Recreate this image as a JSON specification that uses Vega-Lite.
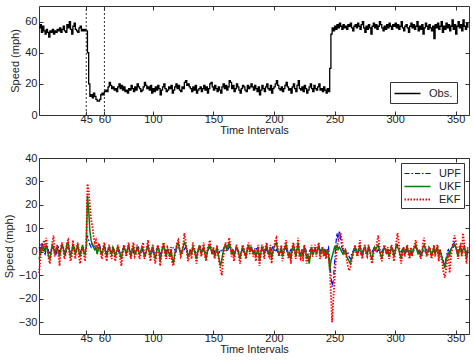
{
"$schema":"https://vega.github.io/schema/vega-lite/v6.json",
"background":"white",
"padding":{"left":2,"top":5,"right":7,"bottom":4},
"spacing":15,
"resolve":{"scale":{"color":"independent","strokeDash":"independent","strokeWidth":"independent"}},
"datasets":{
"obs":[{"t":6,"v":56},{"t":7,"v":58},{"t":8,"v":53},{"t":9,"v":57},{"t":10,"v":54},{"t":11,"v":52},{"t":12,"v":55},{"t":13,"v":53},{"t":14,"v":50},{"t":15,"v":54},{"t":16,"v":53},{"t":17,"v":55},{"t":18,"v":52},{"t":19,"v":54},{"t":20,"v":53},{"t":21,"v":55},{"t":22,"v":54},{"t":23,"v":56},{"t":24,"v":53},{"t":25,"v":55},{"t":26,"v":57},{"t":27,"v":54},{"t":28,"v":53},{"t":29,"v":58},{"t":30,"v":56},{"t":31,"v":60},{"t":32,"v":55},{"t":33,"v":52},{"t":34,"v":57},{"t":35,"v":59},{"t":36,"v":55},{"t":37,"v":54},{"t":38,"v":53},{"t":39,"v":56},{"t":40,"v":57},{"t":41,"v":54},{"t":42,"v":55},{"t":43,"v":54},{"t":44,"v":55},{"t":45,"v":54},
{"t":46,"v":40},{"t":47,"v":20},{"t":48,"v":12},{"t":49,"v":13},{"t":50,"v":11},{"t":51,"v":14},{"t":52,"v":12},{"t":53,"v":10},{"t":54,"v":9},{"t":55,"v":9},{"t":56,"v":10},{"t":57,"v":13},{"t":58,"v":14},{"t":59,"v":13},{"t":60,"v":15},
{"t":61,"v":16},{"t":62,"v":15},{"t":63,"v":18},{"t":64,"v":21},{"t":65,"v":19},{"t":66,"v":17},{"t":67,"v":18},{"t":68,"v":16},{"t":69,"v":17},{"t":70,"v":15},
{"t":71,"v":18},{"t":72,"v":20},{"t":73,"v":17},{"t":74,"v":19},{"t":75,"v":16},{"t":76,"v":18},{"t":77,"v":15},{"t":78,"v":16},{"t":79,"v":14},{"t":80,"v":17},
{"t":81,"v":16},{"t":82,"v":19},{"t":83,"v":17},{"t":84,"v":15},{"t":85,"v":18},{"t":86,"v":16},{"t":87,"v":20},{"t":88,"v":18},{"t":89,"v":17},{"t":90,"v":15},
{"t":91,"v":16},{"t":92,"v":18},{"t":93,"v":21},{"t":94,"v":19},{"t":95,"v":17},{"t":96,"v":18},{"t":97,"v":16},{"t":98,"v":19},{"t":99,"v":14},{"t":100,"v":17},
{"t":101,"v":15},{"t":102,"v":18},{"t":103,"v":16},{"t":104,"v":19},{"t":105,"v":17},{"t":106,"v":13},{"t":107,"v":16},{"t":108,"v":18},{"t":109,"v":20},{"t":110,"v":17},
{"t":111,"v":15},{"t":112,"v":16},{"t":113,"v":18},{"t":114,"v":17},{"t":115,"v":19},{"t":116,"v":14},{"t":117,"v":16},{"t":118,"v":18},{"t":119,"v":20},{"t":120,"v":17},
{"t":121,"v":19},{"t":122,"v":16},{"t":123,"v":15},{"t":124,"v":18},{"t":125,"v":17},{"t":126,"v":21},{"t":127,"v":22},{"t":128,"v":19},{"t":129,"v":20},{"t":130,"v":18},
{"t":131,"v":17},{"t":132,"v":15},{"t":133,"v":18},{"t":134,"v":16},{"t":135,"v":19},{"t":136,"v":14},{"t":137,"v":16},{"t":138,"v":17},{"t":139,"v":18},{"t":140,"v":15},
{"t":141,"v":17},{"t":142,"v":19},{"t":143,"v":16},{"t":144,"v":18},{"t":145,"v":14},{"t":146,"v":17},{"t":147,"v":20},{"t":148,"v":21},{"t":149,"v":18},{"t":150,"v":16},
{"t":151,"v":19},{"t":152,"v":17},{"t":153,"v":15},{"t":154,"v":18},{"t":155,"v":16},{"t":156,"v":14},{"t":157,"v":18},{"t":158,"v":20},{"t":159,"v":17},{"t":160,"v":19},
{"t":161,"v":16},{"t":162,"v":18},{"t":163,"v":22},{"t":164,"v":21},{"t":165,"v":17},{"t":166,"v":19},{"t":167,"v":15},{"t":168,"v":17},{"t":169,"v":20},{"t":170,"v":18},
{"t":171,"v":16},{"t":172,"v":14},{"t":173,"v":17},{"t":174,"v":19},{"t":175,"v":18},{"t":176,"v":16},{"t":177,"v":15},{"t":178,"v":19},{"t":179,"v":17},{"t":180,"v":18},
{"t":181,"v":20},{"t":182,"v":18},{"t":183,"v":16},{"t":184,"v":19},{"t":185,"v":17},{"t":186,"v":15},{"t":187,"v":18},{"t":188,"v":13},{"t":189,"v":16},{"t":190,"v":19},
{"t":191,"v":17},{"t":192,"v":15},{"t":193,"v":18},{"t":194,"v":20},{"t":195,"v":17},{"t":196,"v":16},{"t":197,"v":19},{"t":198,"v":14},{"t":199,"v":17},{"t":200,"v":18},
{"t":201,"v":20},{"t":202,"v":22},{"t":203,"v":19},{"t":204,"v":17},{"t":205,"v":16},{"t":206,"v":18},{"t":207,"v":15},{"t":208,"v":17},{"t":209,"v":19},{"t":210,"v":21},
{"t":211,"v":18},{"t":212,"v":16},{"t":213,"v":17},{"t":214,"v":14},{"t":215,"v":18},{"t":216,"v":20},{"t":217,"v":17},{"t":218,"v":15},{"t":219,"v":19},{"t":220,"v":22},
{"t":221,"v":17},{"t":222,"v":16},{"t":223,"v":18},{"t":224,"v":15},{"t":225,"v":19},{"t":226,"v":17},{"t":227,"v":14},{"t":228,"v":16},{"t":229,"v":18},{"t":230,"v":20},
{"t":231,"v":17},{"t":232,"v":15},{"t":233,"v":19},{"t":234,"v":17},{"t":235,"v":16},{"t":236,"v":18},{"t":237,"v":20},{"t":238,"v":16},{"t":239,"v":17},{"t":240,"v":15},
{"t":241,"v":18},{"t":242,"v":16},{"t":243,"v":14},{"t":244,"v":17},{"t":245,"v":15},{"t":246,"v":30},{"t":247,"v":52},{"t":248,"v":56},{"t":249,"v":54},
{"t":250,"v":57},{"t":251,"v":55},{"t":252,"v":58},{"t":253,"v":56},{"t":254,"v":59},{"t":255,"v":57},{"t":256,"v":55},{"t":257,"v":58},{"t":258,"v":56},{"t":259,"v":57},
{"t":260,"v":55},{"t":261,"v":58},{"t":262,"v":57},{"t":263,"v":59},{"t":264,"v":56},{"t":265,"v":54},{"t":266,"v":57},{"t":267,"v":58},{"t":268,"v":56},{"t":269,"v":59},
{"t":270,"v":57},{"t":271,"v":55},{"t":272,"v":58},{"t":273,"v":60},{"t":274,"v":56},{"t":275,"v":53},{"t":276,"v":57},{"t":277,"v":55},{"t":278,"v":58},{"t":279,"v":56},
{"t":280,"v":52},{"t":281,"v":57},{"t":282,"v":59},{"t":283,"v":56},{"t":284,"v":58},{"t":285,"v":55},{"t":286,"v":57},{"t":287,"v":60},{"t":288,"v":58},{"t":289,"v":56},
{"t":290,"v":54},{"t":291,"v":57},{"t":292,"v":55},{"t":293,"v":58},{"t":294,"v":56},{"t":295,"v":59},{"t":296,"v":57},{"t":297,"v":55},{"t":298,"v":58},{"t":299,"v":57},
{"t":300,"v":59},{"t":301,"v":56},{"t":302,"v":58},{"t":303,"v":55},{"t":304,"v":57},{"t":305,"v":60},{"t":306,"v":56},{"t":307,"v":54},{"t":308,"v":57},{"t":309,"v":58},
{"t":310,"v":56},{"t":311,"v":53},{"t":312,"v":57},{"t":313,"v":59},{"t":314,"v":56},{"t":315,"v":58},{"t":316,"v":55},{"t":317,"v":57},{"t":318,"v":60},{"t":319,"v":54},
{"t":320,"v":57},{"t":321,"v":55},{"t":322,"v":58},{"t":323,"v":52},{"t":324,"v":56},{"t":325,"v":59},{"t":326,"v":57},{"t":327,"v":55},{"t":328,"v":58},{"t":329,"v":56},
{"t":330,"v":54},{"t":331,"v":57},{"t":332,"v":49},{"t":333,"v":58},{"t":334,"v":56},{"t":335,"v":59},{"t":336,"v":55},{"t":337,"v":57},{"t":338,"v":60},{"t":339,"v":53},
{"t":340,"v":57},{"t":341,"v":55},{"t":342,"v":59},{"t":343,"v":56},{"t":344,"v":58},{"t":345,"v":54},{"t":346,"v":57},{"t":347,"v":61},{"t":348,"v":55},{"t":349,"v":58},
{"t":350,"v":52},{"t":351,"v":57},{"t":352,"v":60},{"t":353,"v":56},{"t":354,"v":58},{"t":355,"v":54},{"t":356,"v":61},{"t":357,"v":57},{"t":358,"v":55},{"t":359,"v":59},{"t":360,"v":56}],
"err":[{"t":6,"UPF":2,"UKF":-3,"EKF":-9},{"t":7,"UPF":1,"UKF":-1,"EKF":-4},{"t":8,"UPF":4,"UKF":2,"EKF":3},{"t":9,"UPF":3,"UKF":1,"EKF":0},{"t":10,"UPF":0,"UKF":2,"EKF":5},
{"t":11,"UPF":-1,"UKF":0,"EKF":2},{"t":12,"UPF":1,"UKF":3,"EKF":6},{"t":13,"UPF":2,"UKF":1,"EKF":1},{"t":14,"UPF":0,"UKF":-2,"EKF":-3},{"t":15,"UPF":-1,"UKF":-3,"EKF":-5},
{"t":16,"UPF":1,"UKF":0,"EKF":-1},{"t":17,"UPF":2,"UKF":3,"EKF":4},{"t":18,"UPF":1,"UKF":2,"EKF":7},{"t":19,"UPF":0,"UKF":-1,"EKF":-2},{"t":20,"UPF":-1,"UKF":1,"EKF":0},
{"t":21,"UPF":1,"UKF":2,"EKF":3},{"t":22,"UPF":2,"UKF":0,"EKF":-1},{"t":23,"UPF":0,"UKF":-2,"EKF":-6},{"t":24,"UPF":1,"UKF":1,"EKF":2},{"t":25,"UPF":2,"UKF":3,"EKF":4},
{"t":26,"UPF":1,"UKF":2,"EKF":1},{"t":27,"UPF":0,"UKF":-1,"EKF":-3},{"t":28,"UPF":-1,"UKF":0,"EKF":-1},{"t":29,"UPF":1,"UKF":3,"EKF":4},{"t":30,"UPF":2,"UKF":4,"EKF":5},
{"t":31,"UPF":1,"UKF":1,"EKF":0},{"t":32,"UPF":0,"UKF":-2,"EKF":-4},{"t":33,"UPF":1,"UKF":0,"EKF":-2},{"t":34,"UPF":2,"UKF":3,"EKF":5},{"t":35,"UPF":1,"UKF":2,"EKF":1},
{"t":36,"UPF":0,"UKF":-1,"EKF":-3},{"t":37,"UPF":1,"UKF":1,"EKF":2},{"t":38,"UPF":2,"UKF":3,"EKF":4},{"t":39,"UPF":1,"UKF":0,"EKF":-2},{"t":40,"UPF":0,"UKF":-2,"EKF":-5},
{"t":41,"UPF":1,"UKF":1,"EKF":0},{"t":42,"UPF":2,"UKF":3,"EKF":2},{"t":43,"UPF":1,"UKF":0,"EKF":-1},{"t":44,"UPF":0,"UKF":-1,"EKF":-4},{"t":45,"UPF":1,"UKF":2,"EKF":3},
{"t":46,"UPF":7,"UKF":24,"EKF":29},{"t":47,"UPF":5,"UKF":18,"EKF":26},{"t":48,"UPF":3,"UKF":9,"EKF":20},{"t":49,"UPF":2,"UKF":5,"EKF":14},{"t":50,"UPF":4,"UKF":3,"EKF":11},
{"t":51,"UPF":2,"UKF":2,"EKF":7},{"t":52,"UPF":3,"UKF":1,"EKF":4},{"t":53,"UPF":1,"UKF":2,"EKF":5},{"t":54,"UPF":0,"UKF":-1,"EKF":1},{"t":55,"UPF":2,"UKF":1,"EKF":3},
{"t":56,"UPF":3,"UKF":2,"EKF":2},{"t":57,"UPF":1,"UKF":0,"EKF":-1},{"t":58,"UPF":0,"UKF":-1,"EKF":-3},{"t":59,"UPF":1,"UKF":1,"EKF":2},{"t":60,"UPF":2,"UKF":3,"EKF":4},
{"t":61,"UPF":1,"UKF":0,"EKF":-2},{"t":62,"UPF":0,"UKF":-2,"EKF":-4},{"t":63,"UPF":1,"UKF":1,"EKF":1},{"t":64,"UPF":2,"UKF":2,"EKF":3},{"t":65,"UPF":1,"UKF":0,"EKF":-1},
{"t":66,"UPF":0,"UKF":-1,"EKF":-3},{"t":67,"UPF":1,"UKF":2,"EKF":2},{"t":68,"UPF":0,"UKF":1,"EKF":0},{"t":69,"UPF":-1,"UKF":-2,"EKF":-4},{"t":70,"UPF":0,"UKF":0,"EKF":-1},
{"t":71,"UPF":1,"UKF":2,"EKF":3},{"t":72,"UPF":0,"UKF":1,"EKF":1},{"t":73,"UPF":-1,"UKF":-1,"EKF":-3},{"t":74,"UPF":0,"UKF":-3,"EKF":-6},{"t":75,"UPF":1,"UKF":0,"EKF":-1},
{"t":76,"UPF":2,"UKF":2,"EKF":3},{"t":77,"UPF":1,"UKF":1,"EKF":2},{"t":78,"UPF":0,"UKF":-1,"EKF":-2},{"t":79,"UPF":1,"UKF":1,"EKF":0},{"t":80,"UPF":2,"UKF":3,"EKF":4},
{"t":81,"UPF":1,"UKF":0,"EKF":-1},{"t":82,"UPF":0,"UKF":-2,"EKF":-3},{"t":83,"UPF":1,"UKF":1,"EKF":2},{"t":84,"UPF":0,"UKF":2,"EKF":4},{"t":85,"UPF":-1,"UKF":-1,"EKF":-2},
{"t":86,"UPF":0,"UKF":0,"EKF":-1},{"t":87,"UPF":1,"UKF":2,"EKF":3},{"t":88,"UPF":2,"UKF":1,"EKF":0},{"t":89,"UPF":1,"UKF":-1,"EKF":-3},{"t":90,"UPF":0,"UKF":0,"EKF":-1},
{"t":91,"UPF":1,"UKF":2,"EKF":2},{"t":92,"UPF":0,"UKF":1,"EKF":4},{"t":93,"UPF":-1,"UKF":-2,"EKF":-3},{"t":94,"UPF":0,"UKF":-1,"EKF":-1},{"t":95,"UPF":1,"UKF":1,"EKF":2},
{"t":96,"UPF":2,"UKF":3,"EKF":5},{"t":97,"UPF":1,"UKF":0,"EKF":-1},{"t":98,"UPF":0,"UKF":-2,"EKF":-4},{"t":99,"UPF":1,"UKF":1,"EKF":1},{"t":100,"UPF":0,"UKF":2,"EKF":3},
{"t":101,"UPF":-1,"UKF":-1,"EKF":-2},{"t":102,"UPF":0,"UKF":-3,"EKF":-5},{"t":103,"UPF":1,"UKF":0,"EKF":-1},{"t":104,"UPF":2,"UKF":2,"EKF":3},{"t":105,"UPF":1,"UKF":1,"EKF":1},
{"t":106,"UPF":-1,"UKF":-4,"EKF":-6},{"t":107,"UPF":0,"UKF":-1,"EKF":-2},{"t":108,"UPF":1,"UKF":2,"EKF":3},{"t":109,"UPF":2,"UKF":3,"EKF":4},{"t":110,"UPF":1,"UKF":0,"EKF":-1},
{"t":111,"UPF":0,"UKF":-2,"EKF":-3},{"t":112,"UPF":1,"UKF":1,"EKF":2},{"t":113,"UPF":0,"UKF":0,"EKF":1},{"t":114,"UPF":-1,"UKF":-2,"EKF":-3},{"t":115,"UPF":0,"UKF":1,"EKF":2},
{"t":116,"UPF":1,"UKF":-3,"EKF":-5},{"t":117,"UPF":2,"UKF":-5,"EKF":-6},{"t":118,"UPF":1,"UKF":-1,"EKF":-2},{"t":119,"UPF":0,"UKF":1,"EKF":1},{"t":120,"UPF":1,"UKF":3,"EKF":4},
{"t":121,"UPF":2,"UKF":4,"EKF":5},{"t":122,"UPF":1,"UKF":1,"EKF":2},{"t":123,"UPF":0,"UKF":-1,"EKF":-2},{"t":124,"UPF":1,"UKF":0,"EKF":-1},{"t":125,"UPF":0,"UKF":2,"EKF":3},
{"t":126,"UPF":1,"UKF":4,"EKF":8},{"t":127,"UPF":2,"UKF":3,"EKF":5},{"t":128,"UPF":1,"UKF":1,"EKF":0},{"t":129,"UPF":0,"UKF":-2,"EKF":-4},{"t":130,"UPF":-1,"UKF":-1,"EKF":-2},
{"t":131,"UPF":0,"UKF":1,"EKF":1},{"t":132,"UPF":1,"UKF":-1,"EKF":-3},{"t":133,"UPF":2,"UKF":2,"EKF":4},{"t":134,"UPF":1,"UKF":1,"EKF":2},{"t":135,"UPF":0,"UKF":-1,"EKF":-1},
{"t":136,"UPF":-1,"UKF":-3,"EKF":-5},{"t":137,"UPF":0,"UKF":0,"EKF":-1},{"t":138,"UPF":1,"UKF":2,"EKF":2},{"t":139,"UPF":2,"UKF":1,"EKF":3},{"t":140,"UPF":1,"UKF":-1,"EKF":-2},
{"t":141,"UPF":0,"UKF":1,"EKF":1},{"t":142,"UPF":1,"UKF":2,"EKF":4},{"t":143,"UPF":0,"UKF":-1,"EKF":-2},{"t":144,"UPF":-1,"UKF":-3,"EKF":-4},{"t":145,"UPF":0,"UKF":0,"EKF":1},
{"t":146,"UPF":1,"UKF":2,"EKF":3},{"t":147,"UPF":2,"UKF":3,"EKF":5},{"t":148,"UPF":1,"UKF":1,"EKF":2},{"t":149,"UPF":0,"UKF":-1,"EKF":-1},{"t":150,"UPF":1,"UKF":1,"EKF":2},
{"t":151,"UPF":0,"UKF":-2,"EKF":-3},{"t":152,"UPF":1,"UKF":0,"EKF":-1},{"t":153,"UPF":0,"UKF":2,"EKF":3},{"t":154,"UPF":-1,"UKF":-1,"EKF":-2},{"t":155,"UPF":0,"UKF":-4,"EKF":-5},
{"t":156,"UPF":1,"UKF":-6,"EKF":-8},{"t":157,"UPF":0,"UKF":-3,"EKF":-10},{"t":158,"UPF":1,"UKF":0,"EKF":-3},{"t":159,"UPF":2,"UKF":2,"EKF":1},{"t":160,"UPF":1,"UKF":3,"EKF":4},
{"t":161,"UPF":0,"UKF":1,"EKF":2},{"t":162,"UPF":1,"UKF":2,"EKF":3},{"t":163,"UPF":2,"UKF":4,"EKF":6},{"t":164,"UPF":1,"UKF":2,"EKF":3},{"t":165,"UPF":0,"UKF":-1,"EKF":-2},
{"t":166,"UPF":1,"UKF":1,"EKF":1},{"t":167,"UPF":0,"UKF":-2,"EKF":-4},{"t":168,"UPF":1,"UKF":0,"EKF":-1},{"t":169,"UPF":2,"UKF":2,"EKF":3},{"t":170,"UPF":1,"UKF":1,"EKF":1},
{"t":171,"UPF":0,"UKF":-1,"EKF":-2},{"t":172,"UPF":-1,"UKF":-3,"EKF":-5},{"t":173,"UPF":0,"UKF":0,"EKF":-1},{"t":174,"UPF":1,"UKF":2,"EKF":3},{"t":175,"UPF":0,"UKF":1,"EKF":2},
{"t":176,"UPF":-1,"UKF":-1,"EKF":-2},{"t":177,"UPF":0,"UKF":-2,"EKF":-3},{"t":178,"UPF":1,"UKF":1,"EKF":2},{"t":179,"UPF":2,"UKF":3,"EKF":4},{"t":180,"UPF":1,"UKF":0,"EKF":-1},
{"t":181,"UPF":0,"UKF":2,"EKF":3},{"t":182,"UPF":1,"UKF":1,"EKF":0},{"t":183,"UPF":0,"UKF":-1,"EKF":-2},{"t":184,"UPF":1,"UKF":1,"EKF":1},{"t":185,"UPF":2,"UKF":-2,"EKF":-4},
{"t":186,"UPF":1,"UKF":0,"EKF":-1},{"t":187,"UPF":0,"UKF":2,"EKF":3},{"t":188,"UPF":-1,"UKF":-4,"EKF":-6},{"t":189,"UPF":0,"UKF":-1,"EKF":-2},{"t":190,"UPF":1,"UKF":2,"EKF":3},
{"t":191,"UPF":2,"UKF":1,"EKF":1},{"t":192,"UPF":1,"UKF":-1,"EKF":-3},{"t":193,"UPF":0,"UKF":1,"EKF":2},{"t":194,"UPF":1,"UKF":3,"EKF":4},{"t":195,"UPF":0,"UKF":0,"EKF":-1},
{"t":196,"UPF":-1,"UKF":-1,"EKF":-2},{"t":197,"UPF":0,"UKF":2,"EKF":3},{"t":198,"UPF":1,"UKF":-3,"EKF":-5},{"t":199,"UPF":2,"UKF":0,"EKF":-1},{"t":200,"UPF":1,"UKF":2,"EKF":2},
{"t":201,"UPF":0,"UKF":3,"EKF":5},{"t":202,"UPF":1,"UKF":4,"EKF":6},{"t":203,"UPF":0,"UKF":1,"EKF":2},{"t":204,"UPF":-1,"UKF":-1,"EKF":-2},{"t":205,"UPF":0,"UKF":0,"EKF":-1},
{"t":206,"UPF":1,"UKF":2,"EKF":3},{"t":207,"UPF":0,"UKF":-2,"EKF":-4},{"t":208,"UPF":1,"UKF":0,"EKF":-1},{"t":209,"UPF":2,"UKF":2,"EKF":3},{"t":210,"UPF":1,"UKF":3,"EKF":5},
{"t":211,"UPF":0,"UKF":1,"EKF":1},{"t":212,"UPF":-1,"UKF":-2,"EKF":-3},{"t":213,"UPF":0,"UKF":0,"EKF":-1},{"t":214,"UPF":1,"UKF":-3,"EKF":-5},{"t":215,"UPF":0,"UKF":1,"EKF":2},
{"t":216,"UPF":1,"UKF":3,"EKF":4},{"t":217,"UPF":0,"UKF":1,"EKF":1},{"t":218,"UPF":-1,"UKF":-2,"EKF":-3},{"t":219,"UPF":0,"UKF":1,"EKF":2},{"t":220,"UPF":1,"UKF":4,"EKF":6},
{"t":221,"UPF":0,"UKF":-1,"EKF":-2},{"t":222,"UPF":-1,"UKF":-2,"EKF":-3},{"t":223,"UPF":0,"UKF":1,"EKF":1},{"t":224,"UPF":1,"UKF":-2,"EKF":-4},{"t":225,"UPF":0,"UKF":2,"EKF":3},
{"t":226,"UPF":1,"UKF":1,"EKF":1},{"t":227,"UPF":0,"UKF":-3,"EKF":-5},{"t":228,"UPF":-1,"UKF":-1,"EKF":-2},{"t":229,"UPF":0,"UKF":-5,"EKF":-3},{"t":230,"UPF":1,"UKF":-2,"EKF":-1},
{"t":231,"UPF":0,"UKF":2,"EKF":3},{"t":232,"UPF":1,"UKF":-1,"EKF":-2},{"t":233,"UPF":0,"UKF":0,"EKF":1},{"t":234,"UPF":1,"UKF":2,"EKF":3},{"t":235,"UPF":0,"UKF":-1,"EKF":-2},
{"t":236,"UPF":1,"UKF":1,"EKF":2},{"t":237,"UPF":2,"UKF":3,"EKF":4},{"t":238,"UPF":1,"UKF":-1,"EKF":-3},{"t":239,"UPF":0,"UKF":0,"EKF":-1},{"t":240,"UPF":1,"UKF":2,"EKF":2},
{"t":241,"UPF":0,"UKF":-1,"EKF":-2},{"t":242,"UPF":1,"UKF":1,"EKF":0},{"t":243,"UPF":0,"UKF":-2,"EKF":-3},{"t":244,"UPF":1,"UKF":1,"EKF":1},{"t":245,"UPF":2,"UKF":-1,"EKF":-2},
{"t":246,"UPF":-4,"UKF":-8,"EKF":-6},{"t":247,"UPF":-10,"UKF":-4,"EKF":-18},{"t":248,"UPF":-15,"UKF":-2,"EKF":-30},{"t":249,"UPF":-12,"UKF":0,"EKF":-20},{"t":250,"UPF":-5,"UKF":2,"EKF":-12},
{"t":251,"UPF":3,"UKF":1,"EKF":-4},{"t":252,"UPF":8,"UKF":3,"EKF":2},{"t":253,"UPF":5,"UKF":1,"EKF":4},{"t":254,"UPF":9,"UKF":2,"EKF":6},{"t":255,"UPF":6,"UKF":1,"EKF":8},
{"t":256,"UPF":2,"UKF":0,"EKF":5},{"t":257,"UPF":0,"UKF":-1,"EKF":2},{"t":258,"UPF":1,"UKF":0,"EKF":-1},{"t":259,"UPF":0,"UKF":1,"EKF":1},{"t":260,"UPF":-1,"UKF":-2,"EKF":-3},
{"t":261,"UPF":0,"UKF":-3,"EKF":-6},{"t":262,"UPF":-2,"UKF":-4,"EKF":-8},{"t":263,"UPF":-3,"UKF":-5,"EKF":-7},{"t":264,"UPF":-1,"UKF":-3,"EKF":-4},{"t":265,"UPF":0,"UKF":-1,"EKF":-2},
{"t":266,"UPF":1,"UKF":1,"EKF":1},{"t":267,"UPF":0,"UKF":2,"EKF":3},{"t":268,"UPF":1,"UKF":0,"EKF":-1},{"t":269,"UPF":0,"UKF":-1,"EKF":-2},{"t":270,"UPF":1,"UKF":1,"EKF":2},
{"t":271,"UPF":0,"UKF":3,"EKF":5},{"t":272,"UPF":-1,"UKF":0,"EKF":-1},{"t":273,"UPF":0,"UKF":-2,"EKF":-3},{"t":274,"UPF":1,"UKF":1,"EKF":1},{"t":275,"UPF":2,"UKF":2,"EKF":3},
{"t":276,"UPF":1,"UKF":0,"EKF":-1},{"t":277,"UPF":0,"UKF":-1,"EKF":-2},{"t":278,"UPF":1,"UKF":2,"EKF":3},{"t":279,"UPF":0,"UKF":1,"EKF":1},{"t":280,"UPF":-1,"UKF":-2,"EKF":-3},
{"t":281,"UPF":0,"UKF":-3,"EKF":-5},{"t":282,"UPF":1,"UKF":0,"EKF":-1},{"t":283,"UPF":2,"UKF":2,"EKF":2},{"t":284,"UPF":1,"UKF":1,"EKF":0},{"t":285,"UPF":0,"UKF":2,"EKF":4},
{"t":286,"UPF":1,"UKF":3,"EKF":7},{"t":287,"UPF":0,"UKF":1,"EKF":3},{"t":288,"UPF":-1,"UKF":-1,"EKF":-2},{"t":289,"UPF":0,"UKF":-3,"EKF":-4},{"t":290,"UPF":1,"UKF":0,"EKF":-1},
{"t":291,"UPF":2,"UKF":2,"EKF":3},{"t":292,"UPF":1,"UKF":1,"EKF":2},{"t":293,"UPF":0,"UKF":-1,"EKF":-1},{"t":294,"UPF":1,"UKF":1,"EKF":2},{"t":295,"UPF":0,"UKF":-2,"EKF":-3},
{"t":296,"UPF":1,"UKF":0,"EKF":-1},{"t":297,"UPF":2,"UKF":2,"EKF":3},{"t":298,"UPF":1,"UKF":1,"EKF":0},{"t":299,"UPF":0,"UKF":-2,"EKF":-4},{"t":300,"UPF":1,"UKF":0,"EKF":-1},
{"t":301,"UPF":2,"UKF":3,"EKF":4},{"t":302,"UPF":3,"UKF":2,"EKF":8},{"t":303,"UPF":2,"UKF":1,"EKF":4},{"t":304,"UPF":1,"UKF":-1,"EKF":-2},{"t":305,"UPF":0,"UKF":-3,"EKF":-5},
{"t":306,"UPF":1,"UKF":0,"EKF":-1},{"t":307,"UPF":0,"UKF":2,"EKF":2},{"t":308,"UPF":-1,"UKF":-1,"EKF":-2},{"t":309,"UPF":0,"UKF":1,"EKF":1},{"t":310,"UPF":1,"UKF":2,"EKF":3},
{"t":311,"UPF":0,"UKF":0,"EKF":-1},{"t":312,"UPF":1,"UKF":-2,"EKF":-3},{"t":313,"UPF":0,"UKF":1,"EKF":2},{"t":314,"UPF":-1,"UKF":-1,"EKF":-2},{"t":315,"UPF":0,"UKF":1,"EKF":1},
{"t":316,"UPF":1,"UKF":2,"EKF":3},{"t":317,"UPF":2,"UKF":3,"EKF":5},{"t":318,"UPF":1,"UKF":1,"EKF":2},{"t":319,"UPF":0,"UKF":-1,"EKF":-1},{"t":320,"UPF":1,"UKF":1,"EKF":1},
{"t":321,"UPF":0,"UKF":-2,"EKF":-3},{"t":322,"UPF":-1,"UKF":-1,"EKF":-2},{"t":323,"UPF":0,"UKF":2,"EKF":4},{"t":324,"UPF":1,"UKF":3,"EKF":6},{"t":325,"UPF":0,"UKF":1,"EKF":2},
{"t":326,"UPF":1,"UKF":-1,"EKF":-2},{"t":327,"UPF":0,"UKF":0,"EKF":-1},{"t":328,"UPF":1,"UKF":2,"EKF":2},{"t":329,"UPF":0,"UKF":1,"EKF":1},{"t":330,"UPF":-1,"UKF":-2,"EKF":-3},
{"t":331,"UPF":0,"UKF":0,"EKF":-1},{"t":332,"UPF":1,"UKF":2,"EKF":3},{"t":333,"UPF":0,"UKF":-1,"EKF":-2},{"t":334,"UPF":1,"UKF":1,"EKF":1},{"t":335,"UPF":0,"UKF":2,"EKF":3},
{"t":336,"UPF":-1,"UKF":-2,"EKF":-4},{"t":337,"UPF":0,"UKF":1,"EKF":1},{"t":338,"UPF":-1,"UKF":-1,"EKF":-2},{"t":339,"UPF":-2,"UKF":-3,"EKF":-5},{"t":340,"UPF":-4,"UKF":-5,"EKF":-9},
{"t":341,"UPF":-6,"UKF":-7,"EKF":-11},{"t":342,"UPF":-3,"UKF":-4,"EKF":-8},{"t":343,"UPF":0,"UKF":-2,"EKF":-4},{"t":344,"UPF":1,"UKF":0,"EKF":-1},{"t":345,"UPF":0,"UKF":-2,"EKF":-9},
{"t":346,"UPF":1,"UKF":1,"EKF":-3},{"t":347,"UPF":2,"UKF":2,"EKF":1},{"t":348,"UPF":3,"UKF":2,"EKF":4},{"t":349,"UPF":4,"UKF":3,"EKF":7},{"t":350,"UPF":2,"UKF":2,"EKF":5},
{"t":351,"UPF":1,"UKF":0,"EKF":1},{"t":352,"UPF":0,"UKF":-2,"EKF":-3},{"t":353,"UPF":1,"UKF":1,"EKF":2},{"t":354,"UPF":0,"UKF":2,"EKF":3},{"t":355,"UPF":1,"UKF":-1,"EKF":-2},
{"t":356,"UPF":0,"UKF":1,"EKF":8},{"t":357,"UPF":3,"UKF":2,"EKF":4},{"t":358,"UPF":1,"UKF":0,"EKF":-1},{"t":359,"UPF":0,"UKF":-3,"EKF":-5},{"t":360,"UPF":1,"UKF":1,"EKF":2}]
},
"vconcat":[
{
"width":430,"height":109,
"resolve":{"axis":{"x":"independent","y":"independent"}},
"layer":[
{"data":{"name":"obs"},
 "mark":{"type":"line","interpolate":"step-after","strokeWidth":1.3,"color":"#000"},
 "encoding":{
  "x":{"field":"t","type":"quantitative","scale":{"domain":[6,361],"nice":false,"zero":false},
       "axis":{"values":[45,60,100,150,200,250,300,350],"title":"Time Intervals","titlePadding":0,"labelPadding":2}},
  "y":{"field":"v","type":"quantitative","scale":{"domain":[0,70],"nice":false},
       "axis":{"values":[0,20,40,60],"title":"Speed (mph)"}},
  "color":{"datum":"Obs.","scale":{"range":["#000000"]},
       "legend":{"title":null,"orient":"bottom-right","offset":12,"padding":4,"symbolType":"M-2,0L2,0","symbolSize":169,"labelOffset":14,"symbolOffset":6}}
 }},
{"data":{"values":[{"t":45},{"t":60}]},
 "mark":{"type":"rule","strokeDash":[2,2],"color":"#333","strokeWidth":1},
 "encoding":{
  "x":{"field":"t","type":"quantitative","axis":{"orient":"top","values":[45,60,100,150,200,250,300,350],"labels":false,"title":null}},
  "y":{"datum":0,"type":"quantitative","axis":{"orient":"right","values":[0,20,40,60],"labels":false,"title":null}},
  "y2":{"datum":70}
 }},
{"mark":{"type":"text","font":"Liberation Sans","fontSize":11,"color":"#222"},
 "encoding":{
  "x":{"datum":187,"type":"quantitative","axis":null},
  "y":{"datum":62.5,"type":"quantitative","axis":null},
  "text":{"value":"a) Observed Speeds"}
 }}
]
},
{
"width":430,"height":176,
"resolve":{"axis":{"x":"independent","y":"independent"}},
"layer":[
{"data":{"name":"err"},
 "transform":[{"fold":["UPF","UKF","EKF"],"as":["method","err"]}],
 "mark":{"type":"line"},
 "encoding":{
  "x":{"field":"t","type":"quantitative","scale":{"domain":[6,361],"nice":false,"zero":false},
       "axis":{"values":[45,60,100,150,200,250,300,350],"title":"Time Intervals","titlePadding":0,"labelPadding":2}},
  "y":{"field":"err","type":"quantitative","scale":{"domain":[-35,40],"nice":false},
       "axis":{"values":[-30,-20,-10,0,10,20,30,40],"title":"Speed (mph)"}},
  "color":{"field":"method","type":"nominal","scale":{"domain":["UPF","UKF","EKF"],"range":["#0000ff","#008000","#ff0000"]},
       "legend":{"title":null,"orient":"top-right","offset":5,"padding":3,"symbolType":"M-2,0L2,0","symbolSize":169,"labelOffset":14,"symbolOffset":6,"rowPadding":0}},
  "strokeDash":{"field":"method","type":"nominal","scale":{"domain":["UPF","UKF","EKF"],"range":[[5,2,1.5,2],[1,0],[1.5,1.5]]},
       "legend":{"title":null,"orient":"top-right","offset":5,"padding":3,"symbolType":"M-2,0L2,0","symbolSize":169,"labelOffset":14,"symbolOffset":6,"rowPadding":0}},
  "strokeWidth":{"field":"method","type":"nominal","scale":{"domain":["UPF","UKF","EKF"],"range":[1.2,1.8,1.3]},"legend":null}
 }},
{"mark":{"type":"rule","strokeDash":[3,3],"color":"#333","strokeWidth":0.8},
 "encoding":{
  "y":{"datum":0,"type":"quantitative","axis":{"orient":"right","values":[-30,-20,-10,0,10,20,30,40],"labels":false,"title":null}}
 }},
{"mark":{"type":"text","font":"Liberation Sans","fontSize":11,"color":"#222"},
 "encoding":{
  "x":{"datum":187,"type":"quantitative","axis":{"orient":"top","values":[45,60,100,150,200,250,300,350],"labels":false,"title":null}},
  "y":{"datum":33,"type":"quantitative","axis":null},
  "text":{"value":"b) Estimation Errors"}
 }}
]
}
],
"config":{
 "view":{"stroke":"#333","strokeWidth":1},
 "axis":{"grid":false,"domain":false,"tickColor":"#333","tickSize":-4,"labelFont":"Liberation Sans","labelFontSize":11,"labelColor":"#222","labelPadding":6,"titleFont":"Liberation Sans","titleFontSize":11,"titleFontWeight":"normal","titleColor":"#222"},
 "legend":{"strokeColor":"#333","fillColor":"white","cornerRadius":0,"labelFont":"Liberation Sans","labelFontSize":11,"labelColor":"#222","symbolStrokeWidth":1.5}
}
}
